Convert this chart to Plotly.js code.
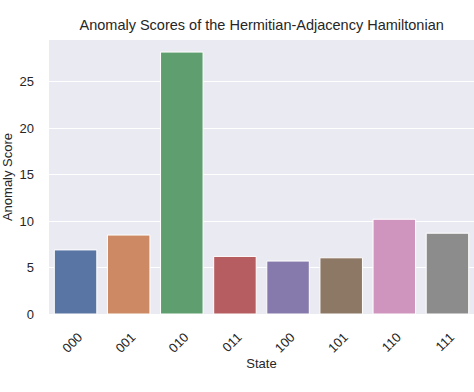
<!DOCTYPE html>
<html>
<head>
<meta charset="utf-8">
<script src="https://cdn.plot.ly/plotly-3.0.1.min.js"></script>
<style>html,body{margin:0;padding:0;background:#fff;}#chart{width:474px;height:392px;}</style>
</head>
<body>
<div id="chart"></div>
<script>
const states = ["000", "001", "010", "011", "100", "101", "110", "111"];
const scores = [6.9, 8.5, 28.2, 6.2, 5.7, 6.05, 10.2, 8.7];
const barColors = ["#5975a4", "#cc8963", "#5f9e6e", "#b55d60", "#857aab", "#8d7866", "#d095bf", "#8c8c8c"];
const yTicks = [0, 5, 10, 15, 20, 25];

const font = "Liberation Sans, Arial, sans-serif";
Plotly.newPlot("chart", [{
  type: "bar",
  x: states,
  y: scores,
  width: 0.8,
  marker: {color: barColors, line: {color: "#ffffff", width: 1}},
  hoverinfo: "skip"
}], {
  width: 474, height: 392,
  margin: {l: 49, r: 0, t: 40, b: 78, pad: 0},
  paper_bgcolor: "#ffffff",
  plot_bgcolor: "#eaeaf2",
  font: {family: font, color: "#262626", size: 13},
  showlegend: false,
  bargap: 0.2,
  title: {text: "Anomaly Scores of the Hermitian-Adjacency Hamiltonian", font: {family: font, size: 14.5, color: "#262626"}, x: 0.552, xanchor: "center", y: 0.937, yanchor: "middle"},
  xaxis: {
    type: "category",
    range: [-0.5, 7.5],
    showgrid: false, zeroline: false, showline: false, ticks: "",
    tickangle: -45,
    ticklabelstandoff: 12,
    ticklabelshift: 3,
    tickfont: {family: font, size: 13, color: "#262626"},
    title: {text: "State", font: {family: font, size: 13, color: "#262626"}, standoff: 4}
  },
  yaxis: {
    range: [0, 29.5],
    tickvals: yTicks,
    showgrid: true, gridcolor: "#ffffff", gridwidth: 1.2,
    zeroline: false, showline: false, ticks: "",
    ticklabelstandoff: 14,
    tickfont: {family: font, size: 13, color: "#262626"},
    title: {text: "Anomaly Score", font: {family: font, size: 13, color: "#262626"}, standoff: 4}
  }
}, {staticPlot: true, displayModeBar: false});
</script>
</body>
</html>
